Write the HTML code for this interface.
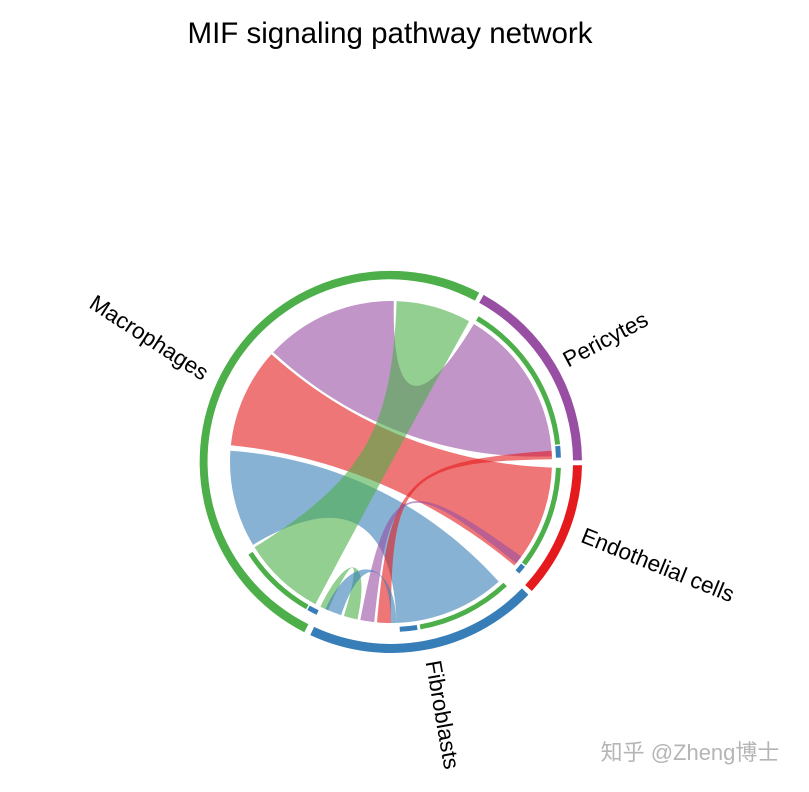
<!DOCTYPE html>
<html><head><meta charset="utf-8"><style>
body{margin:0;background:#fff;width:809px;height:787px;overflow:hidden;font-family:"Liberation Sans",Arial,sans-serif}
</style></head><body>
<svg id="s" width="809" height="787" viewBox="0 0 809 787" xmlns="http://www.w3.org/2000/svg">
<text x="390" y="43" font-size="29.5" text-anchor="middle" font-family="Liberation Sans, sans-serif">MIF signaling pathway network</text>
<text transform="translate(145,344) rotate(33)" font-size="22.5" text-anchor="middle" font-family="Liberation Sans, sans-serif">Macrophages</text>
<text transform="translate(609,346) rotate(-28)" font-size="22.5" text-anchor="middle" font-family="Liberation Sans, sans-serif">Pericytes</text>
<text transform="translate(655,572) rotate(22)" font-size="22.5" text-anchor="middle" font-family="Liberation Sans, sans-serif">Endothelial cells</text>
<text transform="translate(435,716) rotate(80)" font-size="22.5" text-anchor="middle" font-family="Liberation Sans, sans-serif">Fibroblasts</text>
<text x="690" y="760" font-size="22" fill="#b5b5b5" text-anchor="middle" font-family="Liberation Sans, 'Noto Sans CJK SC', sans-serif">知乎 @Zheng博士</text>
<g id="g"></g>
</svg>
<script>
var cx=391,cy=462,G='#4DAF4A',P='#984EA3',R='#E41A1C',B='#377EB8';
function pt(a,r){var t=a*Math.PI/180;return [(cx+r*Math.sin(t)).toFixed(1),(cy-r*Math.cos(t)).toFixed(1)];}
var out='';
function ring(a1,a2,r1,r2,c){var p1=pt(a1,r2),p2=pt(a2,r2),p3=pt(a2,r1),p4=pt(a1,r1);var l=(a2-a1)>180?1:0;
out+='<path d="M'+p1+' A'+r2+' '+r2+' 0 '+l+' 1 '+p2+' L'+p3+' A'+r1+' '+r1+' 0 '+l+' 0 '+p4+'Z" fill="'+c+'"/>';}
function rib(a1,a2,b1,b2,c,k){var r=161;k=k||0.35;var p1=pt(a1,r),p2=pt(a2,r),q1=pt(b1,r),q2=pt(b2,r);
out+='<path d="M'+p1+' A'+r+' '+r+' 0 0 1 '+p2+' C'+pt(a2,r*k)+' '+pt(b1,r*k)+' '+q1+' A'+r+' '+r+' 0 0 1 '+q2+' C'+pt(b2,r*k)+' '+pt(a1,r*k)+' '+p1+'Z" fill="'+c+'" fill-opacity="0.6"/>';}
// outer ring
ring(-153,27.5,182,191,G);ring(29,89.5,182,191,P);ring(91,132.5,182,191,R);ring(134,205,182,191,B);
// inner track
ring(31,84,165,170,G);ring(84.5,88.5,165,170,B);
ring(92,127.5,165,170,G);ring(128,131,165,170,B);
ring(137,170,165,170,G);ring(171,177,165,170,B);
ring(210,237,165,170,G);ring(206,209.5,165,170,B);
// chords
rib(276,312,92,130,R);
rib(239,274,138,178,B);
rib(313,361,31,88,P);
rib(2,29,208,238,G,0.2);
rib(180,185,86,89,R,0.1);
rib(186,191,126,129,P,0.1);
rib(192,197,203,206,G,0.6);
rib(198,204,178,180,B,0.6);
document.getElementById('g').innerHTML=out;
</script>
</body></html>
